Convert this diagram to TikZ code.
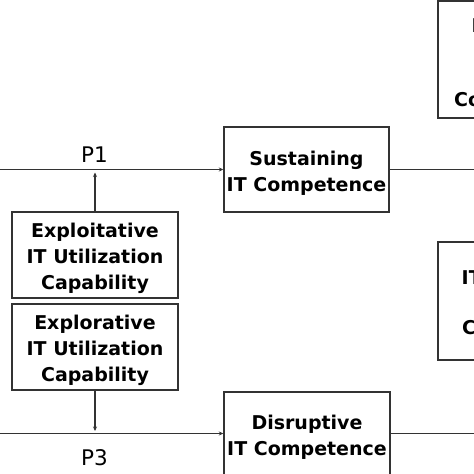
\documentclass[tikz,border=0pt]{standalone}
\usepackage{fontspec}
\setmainfont{DejaVu Sans}
\usetikzlibrary{arrows.meta}
\definecolor{linec}{HTML}{333333}
\begin{document}
\begin{tikzpicture}[x=1pt,y=-1pt,
  boxs/.style={draw=linec,line width=1.4pt,rectangle,inner sep=0pt},
  txt/.style={font=\fontsize{19}{26}\selectfont\bfseries,align=center,inner sep=0pt,text=black},
  lbl/.style={font=\fontsize{21.5}{26}\selectfont,inner sep=0pt,text=black},
  conn/.style={draw=linec,line width=1.4pt},
  arr/.style={conn,-{Stealth[length=4.5pt,width=4pt]}}]
\useasboundingbox (0,0) rectangle (474,474);
\clip (0,0) rectangle (474,474);
\fill[white] (0,0) rectangle (474,474);
% boxes
\node[boxs,minimum width=165pt,minimum height=85pt] (sus) at (306.5,169.5) {};
\node[boxs,minimum width=166pt,minimum height=86pt] (dis) at (307,435) {};
\node[boxs,minimum width=166pt,minimum height=86pt] (exi) at (95,255) {};
\node[boxs,minimum width=166pt,minimum height=86pt] (exr) at (95,347) {};
\node[boxs,minimum width=160pt,minimum height=117pt] (ra) at (518,59.5) {};
\node[boxs,minimum width=160pt,minimum height=118pt] (rb) at (518,301) {};
% texts
\node[txt] (sust) at (306.5,173.3) {Sustaining\\IT Competence};
\node[txt] (dist) at (307,437.3) {Disruptive\\IT Competence};
\node[txt] (exit) at (95,258.3) {Exploitative\\IT Utilization\\Capability};
\node[txt] (exrt) at (95,350.3) {Explorative\\IT Utilization\\Capability};
\node[txt,anchor=base west] (ra1) at (471.5,32) {I};
\node[txt,anchor=base west] (ra4) at (454,106) {Co};
\node[txt,anchor=base west] (rb1) at (461.5,284) {IT};
\node[txt,anchor=base west] (rb3) at (462,334) {C};
% connectors
\coordinate (l1) at (-5,169.5);
\coordinate (r1) at (480,169.5);
\coordinate (l3) at (-5,433.5);
\coordinate (r3) at (480,433.5);
\coordinate (p1tip) at (95,172.5);
\coordinate (p3tip) at (95,431);
\draw[arr] (l1) -- (sus.west);
\draw[conn] (sus.east) -- (r1);
\draw[arr] (l3) -- (dis.west |- l3);
\draw[conn] (dis.east |- r3) -- (r3);
\draw[arr] (exi.north) -- (p1tip);
\draw[arr] (exr.south) -- (p3tip);
\node[lbl,anchor=base] (p1) at (94.5,162) {P1};
\node[lbl,anchor=base] (p3) at (94.5,465) {P3};
\end{tikzpicture}
\end{document}
